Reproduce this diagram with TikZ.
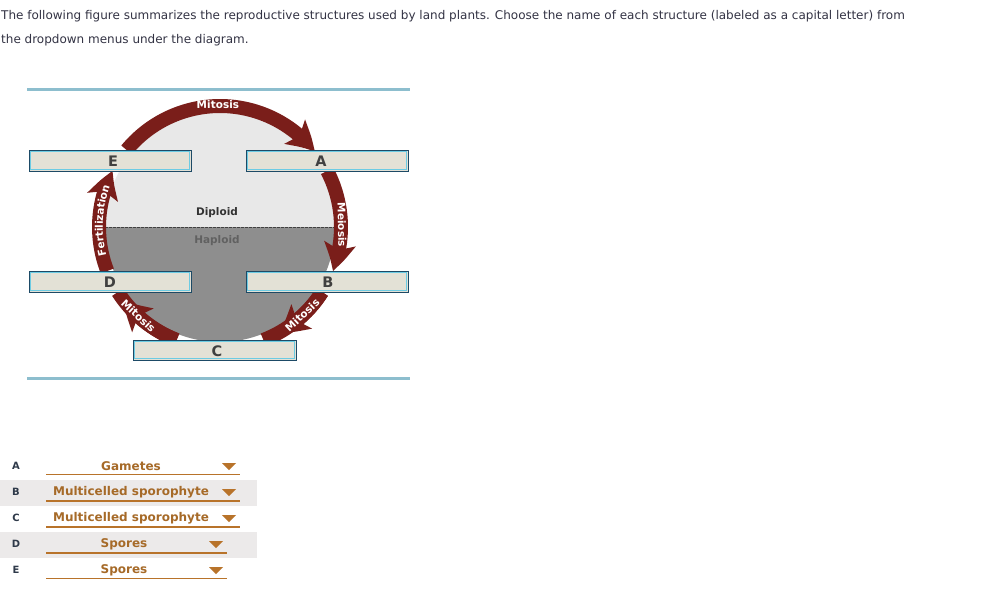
\documentclass[tikz,border=0pt]{standalone}
\usepackage{fontspec}
\setmainfont{DejaVu Sans}
\usetikzlibrary{arrows.meta,bending,decorations.text,calc}
\definecolor{bandred}{HTML}{7A1E1A}
\definecolor{hdr}{HTML}{333344}
\definecolor{rulecol}{HTML}{8DBECE}
\definecolor{lightfill}{HTML}{E8E8E8}
\definecolor{darkfill}{HTML}{8E8E8E}
\definecolor{boxfill}{HTML}{E3E1D6}
\definecolor{boxnavy}{HTML}{1D4A66}
\definecolor{boxcyan}{HTML}{6CCBE3}
\definecolor{lettergray}{HTML}{404040}
\definecolor{ddbrown}{HTML}{B8732A}
\definecolor{ddtext}{HTML}{A66A28}
\definecolor{rowgray}{HTML}{ECEAEA}
\definecolor{rowletter}{HTML}{2F3A4A}
\tikzset{
  hdrtext/.style={anchor=base west, inner sep=0pt, text=hdr, font=\fontsize{12}{14}\selectfont},
  rulestyle/.style={draw=rulecol, line width=3pt},
  bandplain/.style={draw=bandred, line width=14pt},
  bandarrow/.style={draw=bandred, line width=14pt, -{Stealth[width=31pt,length=28pt,inset=6pt,bend]}},
  arclabel/.style={decorate, decoration={text along path, text align=center, raise=-3.8pt, text color=white}},
  arcnode/.style={inner sep=0pt, text=white, font=\bfseries\fontsize{10.5}{11}\selectfont},
  plainbox/.style={draw=boxnavy, line width=1pt, fill=boxfill, inner sep=0pt, minimum width=162pt, minimum height=21pt,
    path picture={\draw[boxcyan, line width=1.2pt] ([shift={(1.2pt,-1.2pt)}]path picture bounding box.north west) rectangle ([shift={(-1.2pt,1.2pt)}]path picture bounding box.south east);}},
  boxletter/.style={inner sep=0pt, text=lettergray, font=\bfseries\fontsize{14.5}{15}\selectfont},
  zonetext/.style={inner sep=0pt, font=\bfseries\fontsize{10.5}{11}\selectfont},
  rowlbl/.style={inner sep=0pt, text=rowletter, font=\bfseries\fontsize{10}{10}\selectfont},
  ddlabel/.style={inner sep=0pt, text=ddtext, font=\bfseries\fontsize{12}{12}\selectfont},
  ddline/.style={draw=ddbrown, line width=1.8pt},
  ddtri/.style={fill=ddbrown}
}
\newcommand{\lblf}{\bfseries\fontsize{10.5}{11}\selectfont}
\begin{document}
\begin{tikzpicture}[x=1pt,y=1pt]
\useasboundingbox (0,0) rectangle (981,-590);
\fill[white] (0,0) rectangle (981,-590);

% header
\node[hdrtext] (h1) at (1,-19.5) {The following figure summarizes the reproductive structures used by land plants. Choose the name of each structure (labeled as a capital letter) from};
\node[hdrtext] (h2) at (1,-43.5) {the dropdown menus under the diagram.};

% rules
\draw[rulestyle] (27,-89) -- (410,-89);
\draw[rulestyle] (27,-378.5) -- (410,-378.5);

% centre
\coordinate (O) at (220,-227);

% inner fills
\fill[lightfill] (O) ++(0:115) arc[start angle=0, end angle=180, radius=115] -- cycle;
\fill[darkfill] (O) ++(180:115) arc[start angle=180, end angle=360, radius=115] -- cycle;
\coordinate (dl) at (105,-227);
\coordinate (dr) at (335,-227);
\draw[black!75, line width=0.9pt, dash pattern=on 2.5pt off 1.5pt] (dl) -- (dr);

% band arrows (clockwise)
\draw[bandarrow] (O) ++(140.5:121) arc[start angle=140.5, end angle=38.5, radius=121];
\draw[bandarrow] (O) ++(27.6:121) arc[start angle=27.6, end angle=-21.3, radius=121];
\draw[bandplain] (O) ++(-32.5:121) arc[start angle=-32.5, end angle=-69, radius=121];
\draw[bandarrow] (O) ++(-32.5:121) arc[start angle=-32.5, end angle=-61, radius=121];
\draw[bandplain] (O) ++(249:121) arc[start angle=249, end angle=212.5, radius=121];
\draw[bandarrow] (O) ++(249:121) arc[start angle=249, end angle=217, radius=121];
\draw[bandarrow] (O) ++(201.3:121) arc[start angle=201.3, end angle=152.4, radius=121];

% arc labels
\node[arcnode, rotate=1] (lm1) at ($(O)+(91:122.5)$) {Mitosis};
\node[arcnode, rotate=-89] (lme) at ($(O)+(1:122)$) {Meiosis};
\node[arcnode, rotate=43] (lm2) at ($(O)+(-47:120.5)$) {Mitosis};
\node[arcnode, rotate=-43] (lm3) at ($(O)+(227.4:120.5)$) {Mitosis};
\path[arclabel, decoration={text={|\lblf|Fertilization}}] (O) ++(212:121) arc[start angle=212, end angle=142, radius=121];

% zone texts
\node[zonetext, text=black!80] (dip) at (217,-213) {Diploid};
\node[zonetext, text=black!62] (hap) at (217,-241) {Haploid};

% boxes
\node[plainbox] (E) at (110,-160.5) {};
\node[plainbox] (A) at (327,-160.5) {};
\node[plainbox] (D) at (110,-281.5) {};
\node[plainbox] (B) at (327,-281.5) {};
\node[plainbox, minimum width=163pt, minimum height=20pt] (C) at (214.5,-350) {};
\node[boxletter] (Elbl) at (113,-161) {E};
\node[boxletter] (Albl) at (321,-161) {A};
\node[boxletter] (Dlbl) at (110,-282) {D};
\node[boxletter] (Blbl) at (328,-282) {B};
\node[boxletter] (Clbl) at (217,-351) {C};

% dropdown rows
\fill[rowgray] (0,-480) rectangle (257,-506);
\fill[rowgray] (0,-532) rectangle (257,-557.5);

\node[rowlbl] (rA) at (16,-466) {A};
\node[rowlbl] (rB) at (16,-492) {B};
\node[rowlbl] (rC) at (16,-518) {C};
\node[rowlbl] (rD) at (16,-544) {D};
\node[rowlbl] (rE) at (16,-570) {E};

\node[ddlabel] (tA) at (131,-466) {Gametes};
\node[ddlabel] (tB) at (131,-492) {Multicelled sporophyte};
\node[ddlabel] (tC) at (131,-518) {Multicelled sporophyte};
\node[ddlabel] (tD) at (124,-544) {Spores};
\node[ddlabel] (tE) at (124,-570) {Spores};

\draw[ddline] (46,-474.5) -- (240,-474.5);
\draw[ddline] (46,-501) -- (240,-501);
\draw[ddline] (46,-527) -- (240,-527);
\draw[ddline] (46,-553) -- (227,-553);
\draw[ddline] (46,-578.5) -- (227,-578.5);

\fill[ddtri] (222,-463) -- (236,-463) -- (229,-470) -- cycle;
\fill[ddtri] (222,-489) -- (236,-489) -- (229,-496) -- cycle;
\fill[ddtri] (222,-515) -- (236,-515) -- (229,-522) -- cycle;
\fill[ddtri] (209,-541) -- (223,-541) -- (216,-548) -- cycle;
\fill[ddtri] (209,-567) -- (223,-567) -- (216,-574) -- cycle;
\end{tikzpicture}
\end{document}
